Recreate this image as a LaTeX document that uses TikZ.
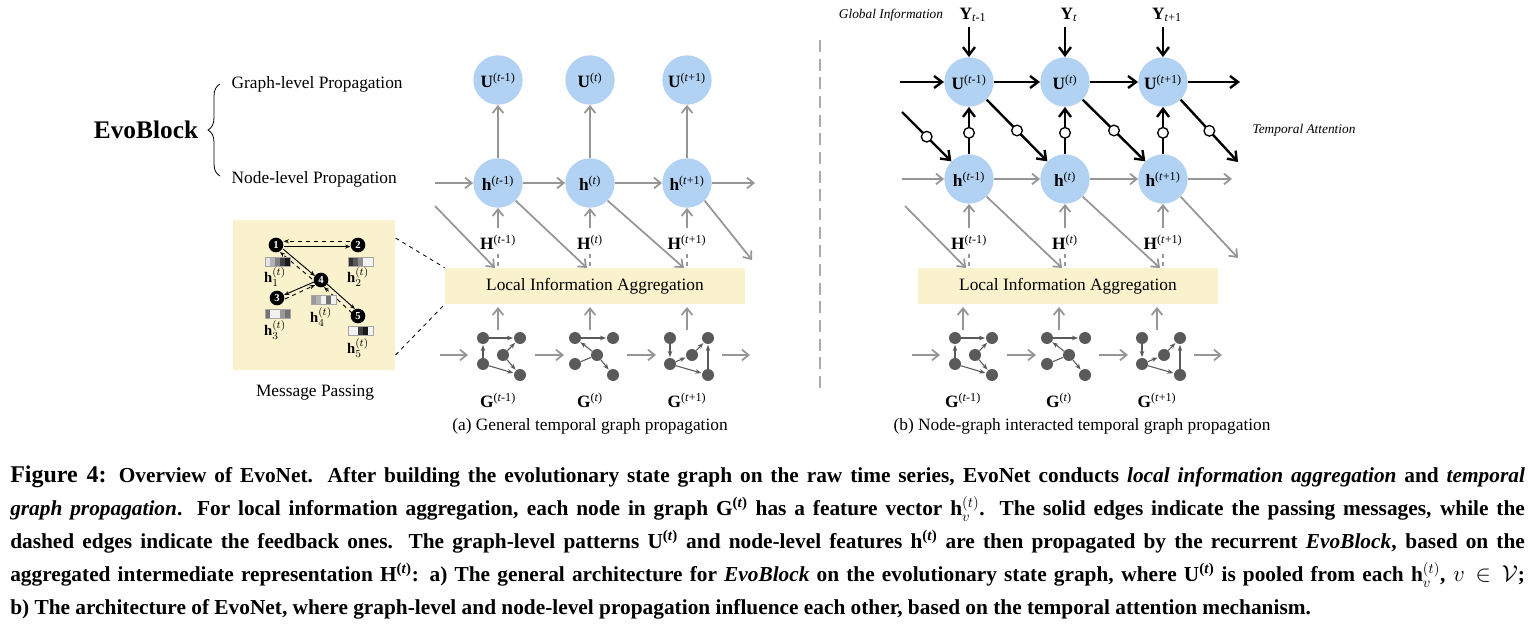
\documentclass[tikz,border=0pt]{standalone}
\usepackage{fontspec}
\setmainfont{Liberation Serif}
\usetikzlibrary{arrows.meta,decorations.pathreplacing,calc}
\definecolor{cb}{RGB}{178,210,243}
\definecolor{by}{RGB}{249,242,204}
\definecolor{ga}{RGB}{150,150,150}
\definecolor{gn}{RGB}{90,90,90}
\tikzset{
 circ/.style={circle,fill=cb,minimum size=37pt,inner sep=0pt,font=\fontsize{13}{15}\selectfont},
 garr/.style={draw=ga,line width=1.3pt,-{Straight Barb[length=5pt,width=8pt]}},
 barr/.style={draw=black,line width=1.8pt,-{Straight Barb[length=6pt,width=9pt]}},
 lbl/.style={font=\fontsize{13}{15}\selectfont},
 gnode/.style={circle,fill=gn,minimum size=9pt,inner sep=0pt},
 gedge/.style={draw=gn,line width=0.8pt,-{Stealth[length=4.5pt]},shorten >=0.5pt},
 mp/.style={circle,fill=black,minimum size=11pt,inner sep=0pt,text=white,font=\bfseries\fontsize{8}{8}\selectfont},
 gate/.style={circle,draw=black,fill=white,line width=1pt,minimum size=8pt,inner sep=0pt},
 boxy/.style={fill=by,minimum width=225pt,minimum height=27pt,inner sep=0pt,font=\fontsize{13}{15}\selectfont},
}
\newcommand{\fvec}[3]{%
 \foreach \g [count=\k] in {#3} {\fill[black!\g] ($(#1,#2)+(\k*5-15,-4.5)$) rectangle ++(5,9);}
 \draw[gray!70,line width=0.4pt] (#1-10,#2-4.5) rectangle (#1+15,#2+4.5);}
\begin{document}
\begin{tikzpicture}[x=0.75pt,y=-0.75pt]
\useasboundingbox[fill=white] (0,0) rectangle (1529,627);
% ---------------- left panel ----------------
\node[font=\bfseries\fontsize{19}{20}\selectfont] (evo) at (146,130) {EvoBlock};
\draw[decorate,decoration={brace,amplitude=9pt},line width=0.6pt] (220,176) -- (220,84);
\node[lbl,anchor=west] (gl) at (227,84) {Graph-level Propagation};
\node[lbl,anchor=west] (nl) at (227,179) {Node-level Propagation};
\foreach \i/\x/\s in {1/498/{(\textit{t}-1)},2/590/{(\textit{t})},3/687/{(\textit{t}+1)}}{
 \node[circ] (U\i) at (\x,80) {\textbf{U}\textsuperscript{\s}};
 \node[circ] (h\i) at (\x,183) {\textbf{h}\textsuperscript{\s}};
 \node[lbl] (H\i) at (\x,242) {\textbf{H}\textsuperscript{\s}};
 \node[lbl] (G\i) at (\x,400) {\textbf{G}\textsuperscript{\s}};
 \draw[garr] (h\i) -- (U\i);
 \draw[garr] (\x,228) -- (h\i);
 \draw[ga,dashed,line width=1.2pt] (H\i.south) -- (\x,268);
 \draw[garr] (\x,330) -- (\x,307);
 \coordinate (dl\i) at (\x-3,268);
}
\node[boxy] (lia) at (595,286) {Local Information Aggregation};
\coordinate (s0) at (435,206); \coordinate (e4) at (752,260);
\coordinate (hin) at (435,183); \coordinate (hout) at (755,183);
\draw[garr] (hin) -- (h1); \draw[garr] (h1) -- (h2); \draw[garr] (h2) -- (h3); \draw[garr] (h3) -- (hout);
\draw[garr] (s0) -- (dl1); \draw[garr] (h1.south east) -- (dl2); \draw[garr] (h2.south east) -- (dl3); \draw[garr] (h3.south east) -- (e4);
% mini graphs
\foreach \p/\o in {A/0,B/472}{
 \begin{scope}[shift={(\o,0)}]
 \node[gnode] (\p1a) at (483,338) {}; \node[gnode] (\p1b) at (520,338) {}; \node[gnode] (\p1c) at (503,355) {}; \node[gnode] (\p1d) at (483,364) {}; \node[gnode] (\p1e) at (520,375) {};
 \node[gnode] (\p2a) at (575,338) {}; \node[gnode] (\p2b) at (613,338) {}; \node[gnode] (\p2c) at (597,355) {}; \node[gnode] (\p2d) at (575,364) {}; \node[gnode] (\p2e) at (613,375) {};
 \node[gnode] (\p3a) at (670,338) {}; \node[gnode] (\p3b) at (708,338) {}; \node[gnode] (\p3c) at (692,355) {}; \node[gnode] (\p3d) at (670,364) {}; \node[gnode] (\p3e) at (708,375) {};
 \coordinate (\p i0) at (440,355); \coordinate (\p i1) at (468,355);
 \coordinate (\p j0) at (535,355); \coordinate (\p j1) at (564,355);
 \coordinate (\p k0) at (627,355); \coordinate (\p k1) at (656,355);
 \coordinate (\p l0) at (722,355); \coordinate (\p l1) at (750,355);
 \end{scope}
 \draw[gedge] (\p1a) -- (\p1b); \draw[gedge] (\p1d) -- (\p1a); \draw[gedge] (\p1c) -- (\p1b); \draw[gedge] (\p1c) -- (\p1e); \draw[gedge] (\p1d) -- (\p1e);
 \draw[gedge] (\p2a) -- (\p2b); \draw[gedge] (\p2c) -- (\p2a); \draw[gn,line width=0.8pt] (\p2d) -- (\p2c); \draw[gedge] (\p2c) -- (\p2e);
 \draw[gedge] (\p3a) -- (\p3d); \draw[gedge] (\p3d) -- (\p3c); \draw[gedge] (\p3c) -- (\p3b); \draw[gedge] (\p3d) -- (\p3e); \draw[gedge] (\p3e) -- (\p3b);
 \draw[garr] (\p i0) -- (\p i1); \draw[garr] (\p j0) -- (\p j1); \draw[garr] (\p k0) -- (\p k1); \draw[garr] (\p l0) -- (\p l1);
}
% message passing box
\node[fill=by,minimum width=122pt,minimum height=112pt,inner sep=0pt] (mpb) at (314,295) {};
\node[lbl] (mpl) at (315,393) {Message Passing};
\draw[dashed,line width=0.6pt] (mpb.north east) ++(0,18) coordinate (q1) -- (lia.north west);
\draw[dashed,line width=0.6pt] (mpb.south east) ++(0,-15) coordinate (q2) -- (lia.south west);
\node[mp] (n1) at (276,245) {1}; \node[mp] (n2) at (358,245) {2}; \node[mp] (n4) at (321,280) {4};
\node[mp] (n3) at (277,298) {3}; \node[mp] (n5) at (358,316) {5};
\tikzset{mps/.style={line width=0.7pt,-{Stealth[length=4pt]}}}
\draw[mps] ([yshift=-1.2pt]n1.east) -- ([yshift=-1.2pt]n2.west);
\draw[mps,dashed] ([yshift=2.8pt]n2.west) -- ([yshift=2.8pt]n1.east);
\draw[mps] ($(n1)+(7,4)$) -- ($(n4)+(-6,-4)$);
\draw[mps,dashed] ($(n4)+(-9,-1)$) -- ($(n1)+(4,7)$);
\draw[mps] ($(n4)+(-7,2)$) -- ($(n3)+(7,-3)$);
\draw[mps,dashed] ($(n3)+(8,1)$) -- ($(n4)+(-6,5)$);
\draw[mps] ($(n4)+(6,4)$) -- ($(n5)+(-3,-7)$);
\draw[mps,dashed] ($(n5)+(-6,-3)$) -- ($(n4)+(3,7)$);
\fvec{275}{262}{10,30,50,75,90}
\fvec{358}{262}{80,65,45,5,5}
\fvec{275}{314}{55,5,5,40,55}
\fvec{321}{300}{40,30,5,55,5}
\fvec{358}{331}{5,5,75,90,5}
\tikzset{hl/.style={font=\fontsize{11}{12}\selectfont}}
\node[hl] (l1) at (275,277) {\textbf{h}$^{(t)}_1$};
\node[hl] (l2) at (358,277) {\textbf{h}$^{(t)}_2$};
\node[hl] (l3) at (275,330) {\textbf{h}$^{(t)}_3$};
\node[hl] (l4) at (321,317) {\textbf{h}$^{(t)}_4$};
\node[hl] (l5) at (358,348) {\textbf{h}$^{(t)}_5$};
\node[lbl] (capa) at (590,426) {(a) General temporal graph propagation};
% separator
\draw[ga!80,line width=1.2pt,dash pattern=on 9pt off 5pt] (820,40) -- (820,390);
% ---------------- right panel ----------------
\node[font=\itshape\fontsize{10}{12}\selectfont] (glob) at (891,15) {Global Information};
\node[font=\itshape\fontsize{10}{12}\selectfont] (tatt) at (1304,130) {Temporal Attention};
\foreach \i/\x/\s/\y in {1/969/{(\textit{t}-1)}/{\textit{t}-1},2/1065/{(\textit{t})}/{\textit{t}},3/1163/{(\textit{t}+1)}/{\textit{t}+1}}{
 \node[circ] (RU\i) at (\x,82) {\textbf{U}\textsuperscript{\s}};
 \node[circ] (Rh\i) at (\x,179) {\textbf{h}\textsuperscript{\s}};
 \node[lbl] (Y\i) at (\x+4,15) {\textbf{Y}\textsubscript{\y}};
 \node[lbl] (RH\i) at (\x,242) {\textbf{H}\textsuperscript{\s}};
 \node[lbl] (RG\i) at (\x-6,400) {\textbf{G}\textsuperscript{\s}};
 \draw[barr] (\x,27) -- (RU\i);
 \draw[barr] (Rh\i) -- node[gate,pos=0.45] {} (RU\i);
 \draw[garr] (\x,228) -- (Rh\i);
 \draw[ga,dashed,line width=1.2pt] (RH\i.south) -- (\x,268);
 \draw[garr] (\x-6,330) -- (\x-6,307);
 \coordinate (Rd\i) at (\x-3,268);
}
\node[boxy] (rlia) at (1068,286) {Local Information Aggregation};
\coordinate (Rb0) at (900,82); \coordinate (Rb4) at (1240,82);
\draw[barr] (Rb0) -- (RU1); \draw[barr] (RU1) -- (RU2); \draw[barr] (RU2) -- (RU3); \draw[barr] (RU3) -- (Rb4);
\coordinate (Rt0) at (902,112); \coordinate (Rt4) at (1238,162);
\draw[barr] (Rt0) -- node[gate] {} (Rh1.north west);
\draw[barr] (RU1.south east) -- node[gate] {} (Rh2.north west);
\draw[barr] (RU2.south east) -- node[gate] {} (Rh3.north west);
\draw[barr] (RU3.south east) -- node[gate] {} (Rt4);
\coordinate (Rhin) at (902,179); \coordinate (Rhout) at (1232,179);
\draw[garr] (Rhin) -- (Rh1); \draw[garr] (Rh1) -- (Rh2); \draw[garr] (Rh2) -- (Rh3); \draw[garr] (Rh3) -- (Rhout);
\coordinate (Rs0) at (905,206); \coordinate (Re4) at (1238,258);
\draw[garr] (Rs0) -- (Rd1); \draw[garr] (Rh1.south east) -- (Rd2); \draw[garr] (Rh2.south east) -- (Rd3); \draw[garr] (Rh3.south east) -- (Re4);
\node[lbl] (capb) at (1082,426) {(b) Node-graph interacted temporal graph propagation};
% ---------------- caption ----------------
\node[anchor=north west,text width=1136pt,align=justify,inner sep=0pt,font=\bfseries\fontsize{16}{24.75}\selectfont] (cap) at (10,466) {%
\hyphenpenalty=10000\exhyphenpenalty=10000
{\fontsize{18}{20}\selectfont Figure 4:} Overview of EvoNet. After building the evolutionary state graph on the raw time series, EvoNet conducts \textit{local information aggregation} and \textit{temporal}\linebreak
\textit{graph propagation}. For local information aggregation, each node in graph G\textsuperscript{(\textit{t})} has a feature vector h$_v^{(t)}$. The solid edges indicate the passing messages, while the\linebreak
dashed edges indicate the feedback ones. The graph-level patterns U\textsuperscript{(\textit{t})} and node-level features h\textsuperscript{(\textit{t})} are then propagated by the recurrent \textit{EvoBlock}, based on the\linebreak
aggregated intermediate representation H\textsuperscript{(\textit{t})}: a) The general architecture for \textit{EvoBlock} on the evolutionary state graph, where U\textsuperscript{(\textit{t})} is pooled from each h$_v^{(t)}$, $v\in\mathcal{V}$;\linebreak
b) The architecture of EvoNet, where graph-level and node-level propagation influence each other, based on the temporal attention mechanism.};
\end{tikzpicture}
\end{document}
